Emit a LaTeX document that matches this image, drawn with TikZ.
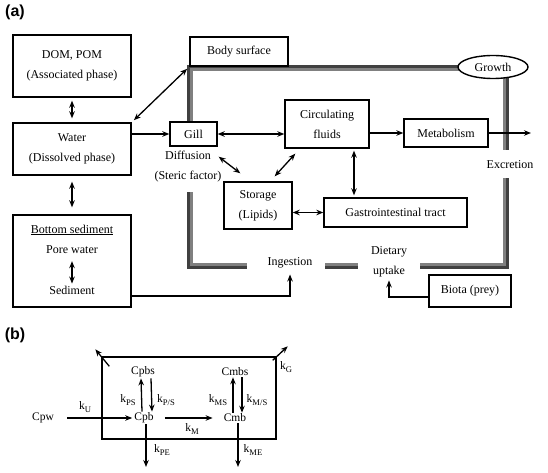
\documentclass[tikz,border=0pt]{standalone}
\usepackage{fontspec}
\setmainfont{Liberation Serif}
\newfontfamily\labelfont{Liberation Sans}
\usetikzlibrary{arrows.meta,shapes.geometric}
\newcommand\ksb[1]{k\raisebox{-2.6pt}{\fontsize{8.6}{9}\selectfont #1}}
\begin{document}
\begin{tikzpicture}[x=1pt,y=-1pt, font=\rmfamily\fontsize{12}{20}\selectfont,
  box/.style={draw, line width=1.4pt, fill=white, inner sep=0pt, align=center},
  arr/.style={line width=1.3pt, -{Stealth[length=7pt,width=5.5pt]}},
  dbl/.style={line width=1.3pt, {Stealth[length=7pt,width=5.5pt]}-{Stealth[length=7pt,width=5.5pt]}},
  lbl/.style={inner sep=1pt, align=center},
  walld/.style={line width=3pt, draw=black!75, line cap=butt, line join=miter},
  walll/.style={line width=3pt, draw=black!50, line cap=butt, line join=miter},
  bfont/.style={font=\rmfamily\fontsize{11.5}{13}\selectfont},
  panel/.style={font=\labelfont\bfseries\fontsize{16}{18}\selectfont, inner sep=0pt}]
\useasboundingbox (0,0) rectangle (548,473);

% ---------- (a) ----------
\node[panel] (pa) at (15,12) {(a)};

% body wall
\draw[walld] (188.5,122) -- (188.5,66.5) -- (460,66.5);
\draw[walll] (191.5,122) -- (191.5,69.5) -- (460,69.5);
\draw[walld] (188.5,192) -- (188.5,267.5) -- (247,267.5);
\draw[walll] (191.5,192) -- (191.5,264.5) -- (247,264.5);
\draw[walld] (325,267.5) -- (358,267.5);
\draw[walll] (325,264.5) -- (358,264.5);
\draw[walld] (507.5,178) -- (507.5,267.5) -- (420,267.5);
\draw[walll] (504.5,178) -- (504.5,264.5) -- (420,264.5);
\draw[walld] (507.5,76) -- (507.5,150);
\draw[walll] (504.5,76) -- (504.5,150);

\node[box, minimum width=118pt, minimum height=62pt] (dom) at (72,66) {DOM, POM\\(Associated phase)};
\node[box, minimum width=118pt, minimum height=52pt] (water) at (72,149) {Water\\(Dissolved phase)};
\node[box, minimum width=118pt, minimum height=92pt] (sed) at (72,261) {};
\node[lbl] (sedt) at (72,230) {\underline{Bottom sediment}};
\node[lbl] (pore) at (72,250) {Pore water};
\node[lbl] (sedi) at (72,290) {Sediment};

\node[box, minimum width=98pt, minimum height=29pt] (body) at (239,51.5) {Body surface};
\node[ellipse, draw, line width=1.4pt, fill=white, minimum width=70pt, minimum height=23pt, inner sep=0pt] (growth) at (493,67) {Growth};
\node[box, minimum width=47pt, minimum height=24pt] (gill) at (193.5,134) {Gill};
\node[box, minimum width=84pt, minimum height=48pt] (circ) at (327,124) {Circulating\\fluids};
\node[box, minimum width=84pt, minimum height=28pt] (metab) at (446,133) {Metabolism};
\node[box, minimum width=68pt, minimum height=47pt] (stor) at (258,205.5) {Storage\\(Lipids)};
\node[box, minimum width=143pt, minimum height=29pt] (gi) at (395.5,212.5) {Gastrointestinal tract};
\node[box, minimum width=82pt, minimum height=32pt] (biota) at (470,291) {Biota (prey)};

\node[lbl] (diff) at (188,167) {Diffusion\\(Steric factor)};
\node[lbl] (ing) at (290,263) {Ingestion};
\node[lbl] (diet) at (389,262) {Dietary\\uptake};
\node[lbl] (excr) at (510,165) {Excretion};
\coordinate (out) at (531,133);

\draw[dbl, shorten <=3pt, shorten >=4pt] (dom) -- (water);
\draw[dbl, shorten <=6pt, shorten >=7pt] (water) -- (sed);
\draw[dbl, shorten <=6pt, shorten >=1pt] (pore) -- (sedi);
\draw[dbl, shorten <=3pt, shorten >=3pt] (water.north east) -- (body.south west);
\draw[arr] (gill.west -| water.east) -- (gill.west);
\draw[dbl] (gill.east) -- (gill.east -| circ.west);
\draw[arr] (circ.east |- metab.west) -- (metab.west);
\draw[arr] (metab.east) -- (out);
\draw[dbl] ([shift={(1,10)}]gill.south east) -- ([shift={(17,-8)}]stor.north west);
\draw[dbl] ([shift={(11,5)}]circ.south west) -- ([shift={(-18,-5)}]stor.north east);
\draw[dbl, shorten <=2pt, shorten >=2pt] ([xshift=27pt]circ.south) -- ([xshift=27pt]circ.south |- gi.north);
\draw[dbl] (gi.west -| stor.east) -- (gi.west);
\draw[arr, shorten >=5pt] ([yshift=-35pt]sed.east) -| (ing.south);
\draw[arr, shorten >=2pt] ([yshift=-6pt]biota.west) -| (diet.south);

% ---------- (b) ----------
\node[panel] (pb) at (15,335) {(b)};
\node[draw, line width=1.4pt, minimum width=174pt, minimum height=82pt, inner sep=0pt] (bbox) at (189,398) {};
\node[bfont, lbl] (cpbs) at (143,372) {Cpbs};
\node[bfont, lbl] (cmbs) at (235,372) {Cmbs};
\node[bfont, lbl] (cpb) at (144,418) {Cpb};
\node[bfont, lbl] (cmb) at (235,418) {Cmb};
\node[bfont, lbl] (cpw) at (43,418) {Cpw};
\coordinate (pe) at (146,467);
\coordinate (me) at (238,467);

\draw[arr] ([shift={(8,10)}]bbox.north west) -- ([shift={(-6,-7)}]bbox.north west);
\draw[arr] ([shift={(-4,4)}]bbox.north east) -- ([shift={(11,-10)}]bbox.north east);
\draw[arr, shorten <=12pt, shorten >=1pt] (cpw) -- (cpb);
\draw[arr, shorten <=10pt, shorten >=10pt] (cpb) -- (cmb);
\draw[arr] ([xshift=-2pt]cpb.north) -- ([xshift=-2pt]cpbs.south);
\draw[arr] ([xshift=8pt]cpbs.south) -- ([xshift=8pt]cpb.north);
\draw[arr] ([xshift=-2pt]cmb.north) -- ([xshift=-2pt]cmbs.south);
\draw[arr] ([xshift=7pt]cmbs.south) -- ([xshift=7pt]cmb.north);
\draw[arr] (cpb.south -| pe) -- (pe);
\draw[arr] (cmb.south -| me) -- (me);

\node[bfont, lbl] (lkg) at (286,367) {\ksb{G}};
\node[bfont, lbl] (lku) at (85,407) {\ksb{U}};
\node[bfont, lbl] (lkm) at (192,429) {\ksb{M}};
\node[bfont, lbl] (lkps) at (128,400) {\ksb{PS}};
\node[bfont, lbl] (lkpsb) at (166,400) {\ksb{P/S}};
\node[bfont, lbl] (lkms) at (218,400) {\ksb{MS}};
\node[bfont, lbl] (lkmsb) at (257,400) {\ksb{M/S}};
\node[bfont, lbl] (lkpe) at (162,450) {\ksb{PE}};
\node[bfont, lbl] (lkme) at (253,450) {\ksb{ME}};
\end{tikzpicture}
\end{document}
